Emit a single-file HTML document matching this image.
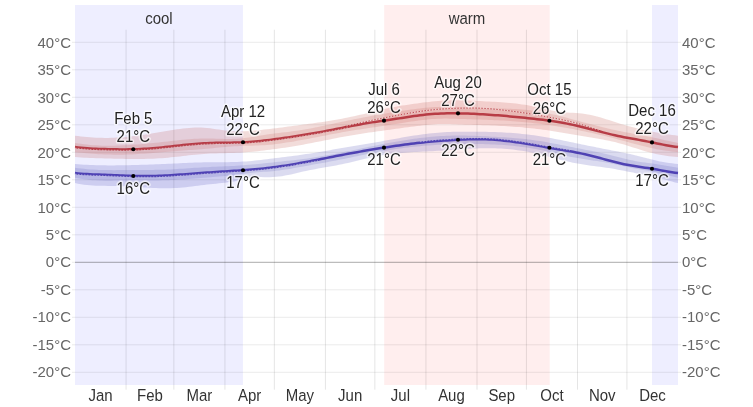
<!DOCTYPE html>
<html><head><meta charset="utf-8"><style>
html,body{margin:0;padding:0;background:#fff;width:753px;height:407px;overflow:hidden}
svg{display:block;will-change:transform}
text{font-family:"Liberation Sans",sans-serif}
.ax{font-size:15px;fill:#666}
.mo{font-size:15px;fill:#333}
.lb{font-size:15px;fill:#222}
.halo{stroke:rgba(255,255,255,0.6);stroke-width:3px;stroke-linejoin:round;fill:rgba(255,255,255,0.6)}
</style></head><body>
<svg width="753" height="407" viewBox="0 0 753 407">
<rect x="75" y="5" width="167.90" height="380" fill="#eeeeff"/>
<rect x="652" y="5" width="26" height="380" fill="#eeeeff"/>
<rect x="384.2" y="5" width="165.50" height="380" fill="#ffeeee"/>
<line x1="72" x2="681" y1="42.30" y2="42.30" stroke="rgba(0,0,0,0.08)" stroke-width="1"/>
<line x1="72" x2="681" y1="69.80" y2="69.80" stroke="rgba(0,0,0,0.08)" stroke-width="1"/>
<line x1="72" x2="681" y1="97.30" y2="97.30" stroke="rgba(0,0,0,0.08)" stroke-width="1"/>
<line x1="72" x2="681" y1="124.80" y2="124.80" stroke="rgba(0,0,0,0.08)" stroke-width="1"/>
<line x1="72" x2="681" y1="152.30" y2="152.30" stroke="rgba(0,0,0,0.08)" stroke-width="1"/>
<line x1="72" x2="681" y1="179.80" y2="179.80" stroke="rgba(0,0,0,0.08)" stroke-width="1"/>
<line x1="72" x2="681" y1="207.30" y2="207.30" stroke="rgba(0,0,0,0.08)" stroke-width="1"/>
<line x1="72" x2="681" y1="234.80" y2="234.80" stroke="rgba(0,0,0,0.08)" stroke-width="1"/>
<line x1="72" x2="681" y1="262.30" y2="262.30" stroke="rgba(0,0,0,0.08)" stroke-width="1"/>
<line x1="75" x2="678" y1="262.30" y2="262.30" stroke="rgba(0,0,0,0.27)" stroke-width="1"/>
<line x1="72" x2="681" y1="289.80" y2="289.80" stroke="rgba(0,0,0,0.08)" stroke-width="1"/>
<line x1="72" x2="681" y1="317.30" y2="317.30" stroke="rgba(0,0,0,0.08)" stroke-width="1"/>
<line x1="72" x2="681" y1="344.80" y2="344.80" stroke="rgba(0,0,0,0.08)" stroke-width="1"/>
<line x1="72" x2="681" y1="372.30" y2="372.30" stroke="rgba(0,0,0,0.08)" stroke-width="1"/>
<line x1="126.07" x2="126.07" y1="29.7" y2="389.7" stroke="rgba(0,0,0,0.1)" stroke-width="1"/>
<line x1="173.85" x2="173.85" y1="29.7" y2="389.7" stroke="rgba(0,0,0,0.1)" stroke-width="1"/>
<line x1="224.93" x2="224.93" y1="29.7" y2="389.7" stroke="rgba(0,0,0,0.1)" stroke-width="1"/>
<line x1="274.35" x2="274.35" y1="29.7" y2="389.7" stroke="rgba(0,0,0,0.1)" stroke-width="1"/>
<line x1="325.43" x2="325.43" y1="29.7" y2="389.7" stroke="rgba(0,0,0,0.1)" stroke-width="1"/>
<line x1="374.85" x2="374.85" y1="29.7" y2="389.7" stroke="rgba(0,0,0,0.1)" stroke-width="1"/>
<line x1="425.93" x2="425.93" y1="29.7" y2="389.7" stroke="rgba(0,0,0,0.1)" stroke-width="1"/>
<line x1="477.00" x2="477.00" y1="29.7" y2="389.7" stroke="rgba(0,0,0,0.1)" stroke-width="1"/>
<line x1="526.43" x2="526.43" y1="29.7" y2="389.7" stroke="rgba(0,0,0,0.1)" stroke-width="1"/>
<line x1="577.50" x2="577.50" y1="29.7" y2="389.7" stroke="rgba(0,0,0,0.1)" stroke-width="1"/>
<line x1="626.93" x2="626.93" y1="29.7" y2="389.7" stroke="rgba(0,0,0,0.1)" stroke-width="1"/>
<path d="M75.0,135.75 L78.0,136.11 L81.0,136.45 L84.0,136.76 L87.0,137.03 L90.0,137.28 L93.0,137.48 L96.0,137.65 L99.0,137.78 L102.0,137.87 L105.0,137.90 L108.0,137.90 L111.0,137.84 L114.0,137.74 L117.0,137.60 L120.0,137.42 L123.0,137.19 L126.0,136.94 L129.0,136.64 L132.0,136.32 L135.0,135.96 L138.0,135.58 L141.0,135.18 L144.0,134.75 L147.0,134.30 L150.0,133.84 L153.0,133.36 L156.0,132.87 L159.0,132.37 L162.0,131.86 L165.0,131.35 L168.0,130.84 L171.0,130.33 L174.0,129.84 L177.0,129.37 L180.0,128.94 L183.0,128.54 L186.0,128.20 L189.0,127.92 L192.0,127.71 L195.0,127.57 L198.0,127.53 L201.0,127.58 L204.0,127.73 L207.0,127.98 L210.0,128.31 L213.0,128.70 L216.0,129.14 L219.0,129.60 L222.0,130.05 L225.0,130.46 L228.0,130.82 L231.0,131.10 L234.0,131.29 L237.0,131.40 L240.0,131.42 L243.0,131.37 L246.0,131.25 L249.0,131.06 L252.0,130.84 L255.0,130.57 L258.0,130.27 L261.0,129.95 L264.0,129.61 L267.0,129.26 L270.0,128.90 L273.0,128.53 L276.0,128.15 L279.0,127.77 L282.0,127.38 L285.0,126.99 L288.0,126.59 L291.0,126.19 L294.0,125.80 L297.0,125.40 L300.0,125.00 L303.0,124.61 L306.0,124.21 L309.0,123.81 L312.0,123.40 L315.0,122.99 L318.0,122.57 L321.0,122.14 L324.0,121.70 L327.0,121.24 L330.0,120.76 L333.0,120.26 L336.0,119.75 L339.0,119.21 L342.0,118.65 L345.0,118.07 L348.0,117.47 L351.0,116.85 L354.0,116.21 L357.0,115.55 L360.0,114.87 L363.0,114.17 L366.0,113.46 L369.0,112.72 L372.0,111.98 L375.0,111.23 L378.0,110.49 L381.0,109.77 L384.0,109.08 L387.0,108.41 L390.0,107.78 L393.0,107.19 L396.0,106.64 L399.0,106.11 L402.0,105.61 L405.0,105.14 L408.0,104.69 L411.0,104.25 L414.0,103.83 L417.0,103.42 L420.0,103.01 L423.0,102.62 L426.0,102.24 L429.0,101.88 L432.0,101.54 L435.0,101.23 L438.0,100.96 L441.0,100.73 L444.0,100.55 L447.0,100.41 L450.0,100.33 L453.0,100.29 L456.0,100.28 L459.0,100.32 L462.0,100.38 L465.0,100.46 L468.0,100.57 L471.0,100.69 L474.0,100.82 L477.0,100.95 L480.0,101.09 L483.0,101.23 L486.0,101.38 L489.0,101.53 L492.0,101.68 L495.0,101.85 L498.0,102.03 L501.0,102.23 L504.0,102.45 L507.0,102.70 L510.0,102.97 L513.0,103.27 L516.0,103.61 L519.0,103.98 L522.0,104.39 L525.0,104.84 L528.0,105.34 L531.0,105.89 L534.0,106.48 L537.0,107.11 L540.0,107.78 L543.0,108.45 L546.0,109.13 L549.0,109.78 L552.0,110.40 L555.0,110.95 L558.0,111.44 L561.0,111.84 L564.0,112.17 L567.0,112.43 L570.0,112.65 L573.0,112.85 L576.0,113.06 L579.0,113.31 L582.0,113.62 L585.0,114.01 L588.0,114.50 L591.0,115.08 L594.0,115.76 L597.0,116.52 L600.0,117.34 L603.0,118.23 L606.0,119.16 L609.0,120.11 L612.0,121.08 L615.0,122.05 L618.0,123.01 L621.0,123.94 L624.0,124.85 L627.0,125.72 L630.0,126.55 L633.0,127.35 L636.0,128.11 L639.0,128.84 L642.0,129.54 L645.0,130.21 L648.0,130.84 L651.0,131.45 L654.0,132.03 L657.0,132.58 L660.0,133.11 L663.0,133.61 L666.0,134.08 L669.0,134.54 L672.0,134.96 L675.0,135.37 L678.0,135.75 L678.0,157.03 L675.0,156.77 L672.0,156.47 L669.0,156.13 L666.0,155.73 L663.0,155.28 L660.0,154.76 L657.0,154.18 L654.0,153.53 L651.0,152.80 L648.0,152.01 L645.0,151.15 L642.0,150.25 L639.0,149.31 L636.0,148.35 L633.0,147.38 L630.0,146.41 L627.0,145.47 L624.0,144.56 L621.0,143.70 L618.0,142.88 L615.0,142.12 L612.0,141.41 L609.0,140.76 L606.0,140.14 L603.0,139.56 L600.0,139.02 L597.0,138.49 L594.0,137.98 L591.0,137.48 L588.0,136.98 L585.0,136.48 L582.0,135.98 L579.0,135.47 L576.0,134.95 L573.0,134.43 L570.0,133.91 L567.0,133.40 L564.0,132.88 L561.0,132.38 L558.0,131.88 L555.0,131.40 L552.0,130.94 L549.0,130.49 L546.0,130.07 L543.0,129.66 L540.0,129.28 L537.0,128.91 L534.0,128.57 L531.0,128.24 L528.0,127.93 L525.0,127.64 L522.0,127.37 L519.0,127.12 L516.0,126.88 L513.0,126.65 L510.0,126.45 L507.0,126.25 L504.0,126.07 L501.0,125.91 L498.0,125.75 L495.0,125.61 L492.0,125.48 L489.0,125.36 L486.0,125.26 L483.0,125.16 L480.0,125.07 L477.0,124.98 L474.0,124.90 L471.0,124.82 L468.0,124.74 L465.0,124.64 L462.0,124.53 L459.0,124.41 L456.0,124.29 L453.0,124.16 L450.0,124.05 L447.0,123.97 L444.0,123.94 L441.0,123.96 L438.0,124.05 L435.0,124.20 L432.0,124.40 L429.0,124.66 L426.0,124.95 L423.0,125.28 L420.0,125.63 L417.0,126.00 L414.0,126.38 L411.0,126.77 L408.0,127.17 L405.0,127.58 L402.0,127.99 L399.0,128.40 L396.0,128.82 L393.0,129.24 L390.0,129.66 L387.0,130.08 L384.0,130.50 L381.0,130.92 L378.0,131.34 L375.0,131.76 L372.0,132.18 L369.0,132.62 L366.0,133.05 L363.0,133.50 L360.0,133.96 L357.0,134.44 L354.0,134.93 L351.0,135.44 L348.0,135.96 L345.0,136.50 L342.0,137.05 L339.0,137.62 L336.0,138.20 L333.0,138.79 L330.0,139.38 L327.0,139.98 L324.0,140.58 L321.0,141.18 L318.0,141.78 L315.0,142.37 L312.0,142.95 L309.0,143.53 L306.0,144.09 L303.0,144.64 L300.0,145.17 L297.0,145.69 L294.0,146.20 L291.0,146.69 L288.0,147.16 L285.0,147.63 L282.0,148.08 L279.0,148.51 L276.0,148.93 L273.0,149.34 L270.0,149.74 L267.0,150.12 L264.0,150.49 L261.0,150.84 L258.0,151.18 L255.0,151.50 L252.0,151.80 L249.0,152.07 L246.0,152.32 L243.0,152.52 L240.0,152.70 L237.0,152.84 L234.0,152.95 L231.0,153.04 L228.0,153.11 L225.0,153.17 L222.0,153.23 L219.0,153.30 L216.0,153.38 L213.0,153.48 L210.0,153.60 L207.0,153.76 L204.0,153.94 L201.0,154.17 L198.0,154.43 L195.0,154.71 L192.0,155.02 L189.0,155.35 L186.0,155.70 L183.0,156.04 L180.0,156.39 L177.0,156.73 L174.0,157.06 L171.0,157.37 L168.0,157.65 L165.0,157.91 L162.0,158.14 L159.0,158.33 L156.0,158.50 L153.0,158.64 L150.0,158.75 L147.0,158.84 L144.0,158.91 L141.0,158.95 L138.0,158.97 L135.0,158.98 L132.0,158.96 L129.0,158.94 L126.0,158.90 L123.0,158.84 L120.0,158.78 L117.0,158.71 L114.0,158.64 L111.0,158.56 L108.0,158.48 L105.0,158.40 L102.0,158.31 L99.0,158.22 L96.0,158.13 L93.0,158.02 L90.0,157.91 L87.0,157.78 L84.0,157.63 L81.0,157.46 L78.0,157.26 L75.0,157.03 Z" fill="rgba(190,80,70,0.2)"/>
<path d="M75.0,142.89 L78.0,143.41 L81.0,143.87 L84.0,144.27 L87.0,144.62 L90.0,144.92 L93.0,145.17 L96.0,145.36 L99.0,145.52 L102.0,145.63 L105.0,145.69 L108.0,145.72 L111.0,145.71 L114.0,145.67 L117.0,145.60 L120.0,145.50 L123.0,145.37 L126.0,145.21 L129.0,145.03 L132.0,144.84 L135.0,144.62 L138.0,144.39 L141.0,144.14 L144.0,143.87 L147.0,143.60 L150.0,143.31 L153.0,143.01 L156.0,142.70 L159.0,142.38 L162.0,142.05 L165.0,141.72 L168.0,141.38 L171.0,141.04 L174.0,140.70 L177.0,140.38 L180.0,140.06 L183.0,139.75 L186.0,139.47 L189.0,139.22 L192.0,139.00 L195.0,138.81 L198.0,138.66 L201.0,138.56 L204.0,138.51 L207.0,138.49 L210.0,138.52 L213.0,138.58 L216.0,138.66 L219.0,138.75 L222.0,138.84 L225.0,138.90 L228.0,138.94 L231.0,138.93 L234.0,138.86 L237.0,138.73 L240.0,138.52 L243.0,138.22 L246.0,137.85 L249.0,137.42 L252.0,136.94 L255.0,136.43 L258.0,135.92 L261.0,135.43 L264.0,134.96 L267.0,134.52 L270.0,134.10 L273.0,133.71 L276.0,133.33 L279.0,132.97 L282.0,132.61 L285.0,132.25 L288.0,131.89 L291.0,131.51 L294.0,131.11 L297.0,130.69 L300.0,130.23 L303.0,129.75 L306.0,129.24 L309.0,128.70 L312.0,128.13 L315.0,127.54 L318.0,126.93 L321.0,126.31 L324.0,125.68 L327.0,125.04 L330.0,124.40 L333.0,123.76 L336.0,123.12 L339.0,122.49 L342.0,121.85 L345.0,121.23 L348.0,120.60 L351.0,119.99 L354.0,119.37 L357.0,118.77 L360.0,118.17 L363.0,117.58 L366.0,117.00 L369.0,116.43 L372.0,115.86 L375.0,115.31 L378.0,114.76 L381.0,114.23 L384.0,113.70 L387.0,113.19 L390.0,112.69 L393.0,112.20 L396.0,111.72 L399.0,111.26 L402.0,110.81 L405.0,110.38 L408.0,109.96 L411.0,109.55 L414.0,109.16 L417.0,108.79 L420.0,108.44 L423.0,108.11 L426.0,107.80 L429.0,107.52 L432.0,107.27 L435.0,107.06 L438.0,106.88 L441.0,106.76 L444.0,106.68 L447.0,106.64 L450.0,106.65 L453.0,106.70 L456.0,106.78 L459.0,106.88 L462.0,107.01 L465.0,107.15 L468.0,107.30 L471.0,107.45 L474.0,107.59 L477.0,107.73 L480.0,107.85 L483.0,107.96 L486.0,108.06 L489.0,108.15 L492.0,108.23 L495.0,108.31 L498.0,108.39 L501.0,108.47 L504.0,108.57 L507.0,108.67 L510.0,108.80 L513.0,108.94 L516.0,109.11 L519.0,109.31 L522.0,109.54 L525.0,109.80 L528.0,110.11 L531.0,110.46 L534.0,110.86 L537.0,111.30 L540.0,111.79 L543.0,112.32 L546.0,112.90 L549.0,113.52 L552.0,114.17 L555.0,114.86 L558.0,115.58 L561.0,116.32 L564.0,117.08 L567.0,117.85 L570.0,118.65 L573.0,119.45 L576.0,120.26 L579.0,121.07 L582.0,121.88 L585.0,122.69 L588.0,123.49 L591.0,124.28 L594.0,125.06 L597.0,125.82 L600.0,126.58 L603.0,127.32 L606.0,128.04 L609.0,128.75 L612.0,129.43 L615.0,130.10 L618.0,130.75 L621.0,131.37 L624.0,131.98 L627.0,132.56 L630.0,133.12 L633.0,133.67 L636.0,134.21 L639.0,134.75 L642.0,135.30 L645.0,135.86 L648.0,136.45 L651.0,137.06 L654.0,137.69 L657.0,138.35 L660.0,139.03 L663.0,139.72 L666.0,140.40 L669.0,141.07 L672.0,141.72 L675.0,142.33 L678.0,142.89 L678.0,152.16 L675.0,151.83 L672.0,151.47 L669.0,151.08 L666.0,150.67 L663.0,150.22 L660.0,149.73 L657.0,149.19 L654.0,148.61 L651.0,147.99 L648.0,147.31 L645.0,146.60 L642.0,145.85 L639.0,145.07 L636.0,144.27 L633.0,143.45 L630.0,142.63 L627.0,141.82 L624.0,141.00 L621.0,140.20 L618.0,139.40 L615.0,138.62 L612.0,137.85 L609.0,137.09 L606.0,136.35 L603.0,135.62 L600.0,134.90 L597.0,134.20 L594.0,133.51 L591.0,132.83 L588.0,132.17 L585.0,131.53 L582.0,130.90 L579.0,130.29 L576.0,129.69 L573.0,129.11 L570.0,128.54 L567.0,127.99 L564.0,127.46 L561.0,126.94 L558.0,126.44 L555.0,125.96 L552.0,125.50 L549.0,125.06 L546.0,124.63 L543.0,124.23 L540.0,123.84 L537.0,123.47 L534.0,123.13 L531.0,122.80 L528.0,122.49 L525.0,122.20 L522.0,121.92 L519.0,121.67 L516.0,121.43 L513.0,121.21 L510.0,121.00 L507.0,120.80 L504.0,120.62 L501.0,120.45 L498.0,120.30 L495.0,120.15 L492.0,120.02 L489.0,119.89 L486.0,119.78 L483.0,119.67 L480.0,119.57 L477.0,119.48 L474.0,119.39 L471.0,119.30 L468.0,119.21 L465.0,119.12 L462.0,119.03 L459.0,118.93 L456.0,118.83 L453.0,118.73 L450.0,118.66 L447.0,118.61 L444.0,118.61 L441.0,118.65 L438.0,118.75 L435.0,118.90 L432.0,119.11 L429.0,119.36 L426.0,119.66 L423.0,119.99 L420.0,120.35 L417.0,120.74 L414.0,121.15 L411.0,121.58 L408.0,122.02 L405.0,122.48 L402.0,122.95 L399.0,123.42 L396.0,123.89 L393.0,124.37 L390.0,124.85 L387.0,125.32 L384.0,125.78 L381.0,126.24 L378.0,126.70 L375.0,127.15 L372.0,127.59 L369.0,128.04 L366.0,128.49 L363.0,128.94 L360.0,129.40 L357.0,129.86 L354.0,130.34 L351.0,130.83 L348.0,131.33 L345.0,131.85 L342.0,132.37 L339.0,132.91 L336.0,133.46 L333.0,134.02 L330.0,134.59 L327.0,135.16 L324.0,135.74 L321.0,136.32 L318.0,136.90 L315.0,137.48 L312.0,138.05 L309.0,138.63 L306.0,139.20 L303.0,139.76 L300.0,140.31 L297.0,140.85 L294.0,141.38 L291.0,141.88 L288.0,142.37 L285.0,142.83 L282.0,143.27 L279.0,143.67 L276.0,144.05 L273.0,144.38 L270.0,144.68 L267.0,144.94 L264.0,145.15 L261.0,145.33 L258.0,145.46 L255.0,145.56 L252.0,145.63 L249.0,145.70 L246.0,145.77 L243.0,145.87 L240.0,145.98 L237.0,146.13 L234.0,146.31 L231.0,146.52 L228.0,146.76 L225.0,147.01 L222.0,147.28 L219.0,147.56 L216.0,147.85 L213.0,148.14 L210.0,148.42 L207.0,148.69 L204.0,148.96 L201.0,149.21 L198.0,149.45 L195.0,149.68 L192.0,149.91 L189.0,150.12 L186.0,150.33 L183.0,150.54 L180.0,150.75 L177.0,150.96 L174.0,151.18 L171.0,151.41 L168.0,151.64 L165.0,151.89 L162.0,152.14 L159.0,152.40 L156.0,152.66 L153.0,152.92 L150.0,153.17 L147.0,153.42 L144.0,153.65 L141.0,153.87 L138.0,154.07 L135.0,154.24 L132.0,154.39 L129.0,154.50 L126.0,154.59 L123.0,154.65 L120.0,154.68 L117.0,154.68 L114.0,154.65 L111.0,154.60 L108.0,154.52 L105.0,154.42 L102.0,154.29 L99.0,154.14 L96.0,153.96 L93.0,153.76 L90.0,153.55 L87.0,153.31 L84.0,153.05 L81.0,152.77 L78.0,152.48 L75.0,152.16 Z" fill="rgba(190,80,70,0.17)"/>
<path d="M75.0,163.93 L78.0,164.20 L81.0,164.43 L84.0,164.63 L87.0,164.81 L90.0,164.96 L93.0,165.08 L96.0,165.18 L99.0,165.26 L102.0,165.32 L105.0,165.37 L108.0,165.39 L111.0,165.40 L114.0,165.39 L117.0,165.37 L120.0,165.34 L123.0,165.29 L126.0,165.24 L129.0,165.18 L132.0,165.11 L135.0,165.04 L138.0,164.96 L141.0,164.87 L144.0,164.78 L147.0,164.69 L150.0,164.59 L153.0,164.48 L156.0,164.36 L159.0,164.24 L162.0,164.11 L165.0,163.98 L168.0,163.84 L171.0,163.70 L174.0,163.55 L177.0,163.40 L180.0,163.25 L183.0,163.10 L186.0,162.96 L189.0,162.83 L192.0,162.71 L195.0,162.59 L198.0,162.50 L201.0,162.42 L204.0,162.35 L207.0,162.31 L210.0,162.28 L213.0,162.26 L216.0,162.24 L219.0,162.23 L222.0,162.22 L225.0,162.20 L228.0,162.17 L231.0,162.12 L234.0,162.04 L237.0,161.93 L240.0,161.79 L243.0,161.62 L246.0,161.41 L249.0,161.16 L252.0,160.88 L255.0,160.57 L258.0,160.24 L261.0,159.90 L264.0,159.54 L267.0,159.17 L270.0,158.80 L273.0,158.43 L276.0,158.07 L279.0,157.70 L282.0,157.33 L285.0,156.96 L288.0,156.58 L291.0,156.20 L294.0,155.81 L297.0,155.40 L300.0,154.99 L303.0,154.56 L306.0,154.12 L309.0,153.66 L312.0,153.19 L315.0,152.70 L318.0,152.20 L321.0,151.70 L324.0,151.19 L327.0,150.67 L330.0,150.15 L333.0,149.62 L336.0,149.10 L339.0,148.58 L342.0,148.06 L345.0,147.55 L348.0,147.04 L351.0,146.54 L354.0,146.03 L357.0,145.53 L360.0,145.03 L363.0,144.52 L366.0,144.01 L369.0,143.50 L372.0,142.99 L375.0,142.47 L378.0,141.94 L381.0,141.41 L384.0,140.87 L387.0,140.33 L390.0,139.78 L393.0,139.24 L396.0,138.69 L399.0,138.15 L402.0,137.62 L405.0,137.10 L408.0,136.59 L411.0,136.09 L414.0,135.61 L417.0,135.15 L420.0,134.70 L423.0,134.29 L426.0,133.89 L429.0,133.53 L432.0,133.20 L435.0,132.90 L438.0,132.64 L441.0,132.41 L444.0,132.22 L447.0,132.06 L450.0,131.94 L453.0,131.84 L456.0,131.77 L459.0,131.72 L462.0,131.68 L465.0,131.67 L468.0,131.66 L471.0,131.67 L474.0,131.68 L477.0,131.71 L480.0,131.75 L483.0,131.79 L486.0,131.85 L489.0,131.92 L492.0,132.01 L495.0,132.11 L498.0,132.22 L501.0,132.36 L504.0,132.51 L507.0,132.68 L510.0,132.87 L513.0,133.09 L516.0,133.32 L519.0,133.59 L522.0,133.88 L525.0,134.19 L528.0,134.54 L531.0,134.91 L534.0,135.32 L537.0,135.76 L540.0,136.22 L543.0,136.71 L546.0,137.23 L549.0,137.77 L552.0,138.33 L555.0,138.91 L558.0,139.50 L561.0,140.10 L564.0,140.72 L567.0,141.33 L570.0,141.96 L573.0,142.58 L576.0,143.20 L579.0,143.82 L582.0,144.44 L585.0,145.05 L588.0,145.66 L591.0,146.26 L594.0,146.86 L597.0,147.46 L600.0,148.05 L603.0,148.64 L606.0,149.22 L609.0,149.80 L612.0,150.38 L615.0,150.97 L618.0,151.55 L621.0,152.15 L624.0,152.76 L627.0,153.39 L630.0,154.04 L633.0,154.72 L636.0,155.43 L639.0,156.17 L642.0,156.94 L645.0,157.74 L648.0,158.54 L651.0,159.33 L654.0,160.08 L657.0,160.77 L660.0,161.40 L663.0,161.97 L666.0,162.46 L669.0,162.90 L672.0,163.29 L675.0,163.63 L678.0,163.93 L678.0,183.10 L675.0,182.38 L672.0,181.59 L669.0,180.75 L666.0,179.87 L663.0,179.00 L660.0,178.15 L657.0,177.35 L654.0,176.62 L651.0,175.96 L648.0,175.36 L645.0,174.80 L642.0,174.25 L639.0,173.70 L636.0,173.14 L633.0,172.56 L630.0,171.98 L627.0,171.38 L624.0,170.79 L621.0,170.21 L618.0,169.65 L615.0,169.11 L612.0,168.60 L609.0,168.11 L606.0,167.66 L603.0,167.23 L600.0,166.82 L597.0,166.43 L594.0,166.03 L591.0,165.64 L588.0,165.23 L585.0,164.80 L582.0,164.33 L579.0,163.83 L576.0,163.29 L573.0,162.69 L570.0,162.05 L567.0,161.37 L564.0,160.65 L561.0,159.90 L558.0,159.12 L555.0,158.33 L552.0,157.53 L549.0,156.74 L546.0,155.96 L543.0,155.19 L540.0,154.45 L537.0,153.74 L534.0,153.07 L531.0,152.44 L528.0,151.86 L525.0,151.32 L522.0,150.83 L519.0,150.38 L516.0,149.98 L513.0,149.62 L510.0,149.30 L507.0,149.03 L504.0,148.80 L501.0,148.60 L498.0,148.45 L495.0,148.33 L492.0,148.25 L489.0,148.21 L486.0,148.21 L483.0,148.24 L480.0,148.30 L477.0,148.40 L474.0,148.52 L471.0,148.67 L468.0,148.84 L465.0,149.04 L462.0,149.24 L459.0,149.45 L456.0,149.67 L453.0,149.89 L450.0,150.10 L447.0,150.31 L444.0,150.51 L441.0,150.69 L438.0,150.86 L435.0,151.02 L432.0,151.17 L429.0,151.32 L426.0,151.46 L423.0,151.60 L420.0,151.74 L417.0,151.90 L414.0,152.06 L411.0,152.23 L408.0,152.43 L405.0,152.64 L402.0,152.88 L399.0,153.15 L396.0,153.45 L393.0,153.78 L390.0,154.15 L387.0,154.56 L384.0,155.02 L381.0,155.52 L378.0,156.06 L375.0,156.65 L372.0,157.28 L369.0,157.93 L366.0,158.62 L363.0,159.32 L360.0,160.04 L357.0,160.76 L354.0,161.49 L351.0,162.20 L348.0,162.89 L345.0,163.57 L342.0,164.22 L339.0,164.83 L336.0,165.42 L333.0,165.99 L330.0,166.53 L327.0,167.05 L324.0,167.57 L321.0,168.09 L318.0,168.62 L315.0,169.16 L312.0,169.73 L309.0,170.33 L306.0,170.96 L303.0,171.62 L300.0,172.30 L297.0,173.00 L294.0,173.70 L291.0,174.38 L288.0,175.02 L285.0,175.61 L282.0,176.13 L279.0,176.55 L276.0,176.87 L273.0,177.07 L270.0,177.17 L267.0,177.18 L264.0,177.14 L261.0,177.10 L258.0,177.13 L255.0,177.29 L252.0,177.62 L249.0,178.11 L246.0,178.73 L243.0,179.43 L240.0,180.14 L237.0,180.80 L234.0,181.39 L231.0,181.90 L228.0,182.33 L225.0,182.71 L222.0,183.04 L219.0,183.35 L216.0,183.64 L213.0,183.94 L210.0,184.26 L207.0,184.59 L204.0,184.95 L201.0,185.32 L198.0,185.70 L195.0,186.09 L192.0,186.46 L189.0,186.82 L186.0,187.15 L183.0,187.45 L180.0,187.70 L177.0,187.90 L174.0,188.05 L171.0,188.16 L168.0,188.22 L165.0,188.23 L162.0,188.20 L159.0,188.14 L156.0,188.04 L153.0,187.91 L150.0,187.76 L147.0,187.58 L144.0,187.40 L141.0,187.20 L138.0,187.00 L135.0,186.80 L132.0,186.61 L129.0,186.44 L126.0,186.29 L123.0,186.16 L120.0,186.06 L117.0,185.99 L114.0,185.95 L111.0,185.92 L108.0,185.89 L105.0,185.87 L102.0,185.83 L99.0,185.76 L96.0,185.66 L93.0,185.52 L90.0,185.31 L87.0,185.04 L84.0,184.69 L81.0,184.26 L78.0,183.72 L75.0,183.10 Z" fill="rgba(75,75,180,0.2)"/>
<path d="M75.0,167.70 L78.0,168.13 L81.0,168.52 L84.0,168.85 L87.0,169.14 L90.0,169.38 L93.0,169.59 L96.0,169.75 L99.0,169.88 L102.0,169.98 L105.0,170.05 L108.0,170.09 L111.0,170.12 L114.0,170.13 L117.0,170.12 L120.0,170.11 L123.0,170.09 L126.0,170.06 L129.0,170.04 L132.0,170.02 L135.0,170.00 L138.0,169.98 L141.0,169.97 L144.0,169.96 L147.0,169.94 L150.0,169.92 L153.0,169.89 L156.0,169.85 L159.0,169.80 L162.0,169.72 L165.0,169.63 L168.0,169.51 L171.0,169.38 L174.0,169.22 L177.0,169.05 L180.0,168.86 L183.0,168.67 L186.0,168.46 L189.0,168.26 L192.0,168.05 L195.0,167.84 L198.0,167.65 L201.0,167.46 L204.0,167.29 L207.0,167.13 L210.0,166.98 L213.0,166.84 L216.0,166.71 L219.0,166.59 L222.0,166.47 L225.0,166.34 L228.0,166.21 L231.0,166.08 L234.0,165.92 L237.0,165.75 L240.0,165.56 L243.0,165.35 L246.0,165.12 L249.0,164.86 L252.0,164.58 L255.0,164.29 L258.0,163.98 L261.0,163.67 L264.0,163.35 L267.0,163.03 L270.0,162.71 L273.0,162.39 L276.0,162.07 L279.0,161.76 L282.0,161.44 L285.0,161.12 L288.0,160.80 L291.0,160.47 L294.0,160.13 L297.0,159.77 L300.0,159.41 L303.0,159.03 L306.0,158.63 L309.0,158.21 L312.0,157.77 L315.0,157.32 L318.0,156.84 L321.0,156.35 L324.0,155.84 L327.0,155.32 L330.0,154.78 L333.0,154.22 L336.0,153.65 L339.0,153.07 L342.0,152.48 L345.0,151.87 L348.0,151.26 L351.0,150.64 L354.0,150.01 L357.0,149.38 L360.0,148.75 L363.0,148.12 L366.0,147.49 L369.0,146.86 L372.0,146.24 L375.0,145.63 L378.0,145.02 L381.0,144.43 L384.0,143.84 L387.0,143.27 L390.0,142.72 L393.0,142.18 L396.0,141.65 L399.0,141.14 L402.0,140.65 L405.0,140.17 L408.0,139.71 L411.0,139.27 L414.0,138.85 L417.0,138.46 L420.0,138.08 L423.0,137.72 L426.0,137.39 L429.0,137.08 L432.0,136.79 L435.0,136.53 L438.0,136.29 L441.0,136.08 L444.0,135.90 L447.0,135.75 L450.0,135.63 L453.0,135.54 L456.0,135.49 L459.0,135.48 L462.0,135.50 L465.0,135.55 L468.0,135.63 L471.0,135.72 L474.0,135.84 L477.0,135.96 L480.0,136.09 L483.0,136.23 L486.0,136.36 L489.0,136.50 L492.0,136.65 L495.0,136.80 L498.0,136.96 L501.0,137.13 L504.0,137.32 L507.0,137.51 L510.0,137.73 L513.0,137.96 L516.0,138.21 L519.0,138.48 L522.0,138.78 L525.0,139.10 L528.0,139.44 L531.0,139.82 L534.0,140.22 L537.0,140.65 L540.0,141.11 L543.0,141.60 L546.0,142.11 L549.0,142.64 L552.0,143.19 L555.0,143.76 L558.0,144.34 L561.0,144.92 L564.0,145.52 L567.0,146.11 L570.0,146.70 L573.0,147.30 L576.0,147.88 L579.0,148.47 L582.0,149.05 L585.0,149.63 L588.0,150.22 L591.0,150.81 L594.0,151.42 L597.0,152.03 L600.0,152.67 L603.0,153.33 L606.0,154.01 L609.0,154.71 L612.0,155.44 L615.0,156.19 L618.0,156.94 L621.0,157.70 L624.0,158.45 L627.0,159.18 L630.0,159.88 L633.0,160.54 L636.0,161.14 L639.0,161.68 L642.0,162.16 L645.0,162.59 L648.0,162.98 L651.0,163.36 L654.0,163.75 L657.0,164.17 L660.0,164.64 L663.0,165.14 L666.0,165.66 L669.0,166.19 L672.0,166.72 L675.0,167.23 L678.0,167.70 L678.0,177.65 L675.0,176.98 L672.0,176.26 L669.0,175.50 L666.0,174.73 L663.0,173.96 L660.0,173.23 L657.0,172.55 L654.0,171.93 L651.0,171.37 L648.0,170.85 L645.0,170.35 L642.0,169.85 L639.0,169.31 L636.0,168.75 L633.0,168.15 L630.0,167.52 L627.0,166.87 L624.0,166.21 L621.0,165.55 L618.0,164.90 L615.0,164.27 L612.0,163.66 L609.0,163.09 L606.0,162.55 L603.0,162.04 L600.0,161.56 L597.0,161.10 L594.0,160.65 L591.0,160.21 L588.0,159.76 L585.0,159.31 L582.0,158.84 L579.0,158.34 L576.0,157.81 L573.0,157.25 L570.0,156.65 L567.0,156.03 L564.0,155.38 L561.0,154.70 L558.0,154.02 L555.0,153.32 L552.0,152.63 L549.0,151.94 L546.0,151.26 L543.0,150.60 L540.0,149.97 L537.0,149.36 L534.0,148.79 L531.0,148.26 L528.0,147.76 L525.0,147.30 L522.0,146.88 L519.0,146.50 L516.0,146.15 L513.0,145.83 L510.0,145.55 L507.0,145.29 L504.0,145.06 L501.0,144.86 L498.0,144.69 L495.0,144.53 L492.0,144.40 L489.0,144.29 L486.0,144.20 L483.0,144.12 L480.0,144.06 L477.0,144.01 L474.0,143.98 L471.0,143.97 L468.0,143.96 L465.0,143.97 L462.0,144.00 L459.0,144.04 L456.0,144.10 L453.0,144.17 L450.0,144.26 L447.0,144.37 L444.0,144.49 L441.0,144.63 L438.0,144.79 L435.0,144.97 L432.0,145.17 L429.0,145.38 L426.0,145.62 L423.0,145.87 L420.0,146.14 L417.0,146.43 L414.0,146.74 L411.0,147.07 L408.0,147.42 L405.0,147.79 L402.0,148.18 L399.0,148.58 L396.0,149.01 L393.0,149.46 L390.0,149.93 L387.0,150.42 L384.0,150.93 L381.0,151.46 L378.0,152.01 L375.0,152.57 L372.0,153.15 L369.0,153.75 L366.0,154.35 L363.0,154.97 L360.0,155.59 L357.0,156.21 L354.0,156.83 L351.0,157.46 L348.0,158.07 L345.0,158.68 L342.0,159.28 L339.0,159.87 L336.0,160.45 L333.0,161.02 L330.0,161.58 L327.0,162.13 L324.0,162.67 L321.0,163.21 L318.0,163.75 L315.0,164.29 L312.0,164.83 L309.0,165.38 L306.0,165.93 L303.0,166.48 L300.0,167.03 L297.0,167.58 L294.0,168.12 L291.0,168.64 L288.0,169.14 L285.0,169.62 L282.0,170.06 L279.0,170.47 L276.0,170.83 L273.0,171.14 L270.0,171.40 L267.0,171.63 L264.0,171.84 L261.0,172.04 L258.0,172.25 L255.0,172.50 L252.0,172.81 L249.0,173.16 L246.0,173.55 L243.0,173.97 L240.0,174.39 L237.0,174.78 L234.0,175.15 L231.0,175.48 L228.0,175.78 L225.0,176.06 L222.0,176.32 L219.0,176.56 L216.0,176.79 L213.0,177.01 L210.0,177.24 L207.0,177.46 L204.0,177.70 L201.0,177.93 L198.0,178.18 L195.0,178.42 L192.0,178.67 L189.0,178.91 L186.0,179.15 L183.0,179.38 L180.0,179.59 L177.0,179.78 L174.0,179.95 L171.0,180.09 L168.0,180.21 L165.0,180.29 L162.0,180.35 L159.0,180.39 L156.0,180.40 L153.0,180.40 L150.0,180.39 L147.0,180.37 L144.0,180.35 L141.0,180.33 L138.0,180.32 L135.0,180.32 L132.0,180.34 L129.0,180.37 L126.0,180.42 L123.0,180.47 L120.0,180.52 L117.0,180.57 L114.0,180.61 L111.0,180.64 L108.0,180.65 L105.0,180.63 L102.0,180.57 L99.0,180.48 L96.0,180.34 L93.0,180.15 L90.0,179.91 L87.0,179.60 L84.0,179.22 L81.0,178.77 L78.0,178.25 L75.0,177.65 Z" fill="rgba(75,75,180,0.167)"/>
<path d="M75.0,147.11 L78.0,147.47 L81.0,147.79 L84.0,148.06 L87.0,148.29 L90.0,148.48 L93.0,148.64 L96.0,148.78 L99.0,148.89 L102.0,148.99 L105.0,149.08 L108.0,149.16 L111.0,149.23 L114.0,149.29 L117.0,149.34 L120.0,149.38 L123.0,149.40 L126.0,149.40 L129.0,149.37 L132.0,149.32 L135.0,149.25 L138.0,149.14 L141.0,149.01 L144.0,148.85 L147.0,148.66 L150.0,148.45 L153.0,148.21 L156.0,147.95 L159.0,147.68 L162.0,147.38 L165.0,147.07 L168.0,146.75 L171.0,146.42 L174.0,146.08 L177.0,145.75 L180.0,145.41 L183.0,145.08 L186.0,144.76 L189.0,144.45 L192.0,144.17 L195.0,143.90 L198.0,143.66 L201.0,143.45 L204.0,143.28 L207.0,143.13 L210.0,143.01 L213.0,142.92 L216.0,142.85 L219.0,142.79 L222.0,142.75 L225.0,142.72 L228.0,142.68 L231.0,142.64 L234.0,142.58 L237.0,142.51 L240.0,142.41 L243.0,142.28 L246.0,142.13 L249.0,141.94 L252.0,141.73 L255.0,141.48 L258.0,141.21 L261.0,140.91 L264.0,140.59 L267.0,140.24 L270.0,139.88 L273.0,139.50 L276.0,139.10 L279.0,138.69 L282.0,138.26 L285.0,137.82 L288.0,137.37 L291.0,136.91 L294.0,136.44 L297.0,135.96 L300.0,135.48 L303.0,134.99 L306.0,134.50 L309.0,134.00 L312.0,133.49 L315.0,132.98 L318.0,132.45 L321.0,131.92 L324.0,131.38 L327.0,130.82 L330.0,130.26 L333.0,129.69 L336.0,129.10 L339.0,128.51 L342.0,127.91 L345.0,127.32 L348.0,126.72 L351.0,126.12 L354.0,125.53 L357.0,124.96 L360.0,124.40 L363.0,123.86 L366.0,123.35 L369.0,122.86 L372.0,122.39 L375.0,121.95 L378.0,121.51 L381.0,121.08 L384.0,120.65 L387.0,120.22 L390.0,119.77 L393.0,119.32 L396.0,118.86 L399.0,118.39 L402.0,117.92 L405.0,117.45 L408.0,116.99 L411.0,116.54 L414.0,116.10 L417.0,115.69 L420.0,115.30 L423.0,114.94 L426.0,114.61 L429.0,114.32 L432.0,114.06 L435.0,113.84 L438.0,113.66 L441.0,113.52 L444.0,113.41 L447.0,113.35 L450.0,113.31 L453.0,113.31 L456.0,113.33 L459.0,113.38 L462.0,113.44 L465.0,113.53 L468.0,113.62 L471.0,113.73 L474.0,113.86 L477.0,114.00 L480.0,114.16 L483.0,114.32 L486.0,114.51 L489.0,114.70 L492.0,114.91 L495.0,115.13 L498.0,115.36 L501.0,115.61 L504.0,115.86 L507.0,116.12 L510.0,116.39 L513.0,116.67 L516.0,116.96 L519.0,117.25 L522.0,117.55 L525.0,117.86 L528.0,118.17 L531.0,118.49 L534.0,118.82 L537.0,119.15 L540.0,119.50 L543.0,119.86 L546.0,120.24 L549.0,120.64 L552.0,121.07 L555.0,121.53 L558.0,122.01 L561.0,122.52 L564.0,123.07 L567.0,123.64 L570.0,124.25 L573.0,124.88 L576.0,125.54 L579.0,126.23 L582.0,126.94 L585.0,127.68 L588.0,128.44 L591.0,129.21 L594.0,130.00 L597.0,130.79 L600.0,131.58 L603.0,132.36 L606.0,133.13 L609.0,133.87 L612.0,134.60 L615.0,135.28 L618.0,135.94 L621.0,136.56 L624.0,137.15 L627.0,137.72 L630.0,138.27 L633.0,138.81 L636.0,139.35 L639.0,139.89 L642.0,140.45 L645.0,141.03 L648.0,141.62 L651.0,142.22 L654.0,142.83 L657.0,143.44 L660.0,144.04 L663.0,144.63 L666.0,145.20 L669.0,145.74 L672.0,146.24 L675.0,146.70 L678.0,147.11" fill="none" stroke="#b02a35" stroke-opacity="0.88" stroke-width="2.5"/>
<path d="M75.0,173.06 L78.0,173.40 L81.0,173.68 L84.0,173.91 L87.0,174.10 L90.0,174.25 L93.0,174.38 L96.0,174.49 L99.0,174.60 L102.0,174.70 L105.0,174.82 L108.0,174.94 L111.0,175.06 L114.0,175.19 L117.0,175.33 L120.0,175.46 L123.0,175.58 L126.0,175.70 L129.0,175.81 L132.0,175.90 L135.0,175.97 L138.0,176.02 L141.0,176.05 L144.0,176.06 L147.0,176.05 L150.0,176.01 L153.0,175.96 L156.0,175.88 L159.0,175.79 L162.0,175.67 L165.0,175.54 L168.0,175.38 L171.0,175.21 L174.0,175.03 L177.0,174.83 L180.0,174.62 L183.0,174.40 L186.0,174.17 L189.0,173.94 L192.0,173.71 L195.0,173.47 L198.0,173.25 L201.0,173.02 L204.0,172.80 L207.0,172.59 L210.0,172.38 L213.0,172.18 L216.0,171.99 L219.0,171.80 L222.0,171.62 L225.0,171.43 L228.0,171.25 L231.0,171.06 L234.0,170.87 L237.0,170.68 L240.0,170.47 L243.0,170.26 L246.0,170.04 L249.0,169.81 L252.0,169.56 L255.0,169.30 L258.0,169.02 L261.0,168.73 L264.0,168.41 L267.0,168.08 L270.0,167.72 L273.0,167.34 L276.0,166.94 L279.0,166.53 L282.0,166.09 L285.0,165.63 L288.0,165.15 L291.0,164.66 L294.0,164.15 L297.0,163.62 L300.0,163.09 L303.0,162.54 L306.0,161.98 L309.0,161.41 L312.0,160.83 L315.0,160.25 L318.0,159.66 L321.0,159.06 L324.0,158.47 L327.0,157.87 L330.0,157.28 L333.0,156.69 L336.0,156.10 L339.0,155.52 L342.0,154.94 L345.0,154.37 L348.0,153.80 L351.0,153.25 L354.0,152.70 L357.0,152.15 L360.0,151.62 L363.0,151.09 L366.0,150.57 L369.0,150.06 L372.0,149.56 L375.0,149.07 L378.0,148.58 L381.0,148.10 L384.0,147.63 L387.0,147.17 L390.0,146.71 L393.0,146.27 L396.0,145.84 L399.0,145.41 L402.0,145.00 L405.0,144.59 L408.0,144.20 L411.0,143.82 L414.0,143.46 L417.0,143.10 L420.0,142.76 L423.0,142.44 L426.0,142.13 L429.0,141.83 L432.0,141.55 L435.0,141.29 L438.0,141.04 L441.0,140.80 L444.0,140.58 L447.0,140.38 L450.0,140.19 L453.0,140.01 L456.0,139.84 L459.0,139.68 L462.0,139.54 L465.0,139.41 L468.0,139.30 L471.0,139.22 L474.0,139.16 L477.0,139.14 L480.0,139.16 L483.0,139.21 L486.0,139.30 L489.0,139.43 L492.0,139.60 L495.0,139.81 L498.0,140.05 L501.0,140.33 L504.0,140.64 L507.0,140.98 L510.0,141.34 L513.0,141.73 L516.0,142.15 L519.0,142.59 L522.0,143.05 L525.0,143.53 L528.0,144.02 L531.0,144.53 L534.0,145.05 L537.0,145.58 L540.0,146.11 L543.0,146.64 L546.0,147.17 L549.0,147.69 L552.0,148.21 L555.0,148.71 L558.0,149.22 L561.0,149.72 L564.0,150.23 L567.0,150.75 L570.0,151.28 L573.0,151.84 L576.0,152.41 L579.0,153.02 L582.0,153.65 L585.0,154.32 L588.0,155.01 L591.0,155.74 L594.0,156.49 L597.0,157.27 L600.0,158.06 L603.0,158.87 L606.0,159.68 L609.0,160.50 L612.0,161.30 L615.0,162.07 L618.0,162.82 L621.0,163.52 L624.0,164.18 L627.0,164.78 L630.0,165.34 L633.0,165.85 L636.0,166.33 L639.0,166.77 L642.0,167.21 L645.0,167.65 L648.0,168.10 L651.0,168.57 L654.0,169.07 L657.0,169.59 L660.0,170.12 L663.0,170.67 L666.0,171.21 L669.0,171.73 L672.0,172.22 L675.0,172.67 L678.0,173.06" fill="none" stroke="#4234ae" stroke-opacity="0.9" stroke-width="2.5"/>
<path d="M75.0,148.11 L78.0,148.47 L81.0,148.79 L84.0,149.06 L87.0,149.29 L90.0,149.48 L93.0,149.64 L96.0,149.78 L99.0,149.89 L102.0,149.99 L105.0,150.08 L108.0,150.16 L111.0,150.23 L114.0,150.29 L117.0,150.34 L120.0,150.38 L123.0,150.40 L126.0,150.40 L129.0,150.37 L132.0,150.32 L135.0,150.25 L138.0,150.14 L141.0,150.01 L144.0,149.85 L147.0,149.66 L150.0,149.45 L153.0,149.21 L156.0,148.95 L159.0,148.68 L162.0,148.38 L165.0,148.07 L168.0,147.75 L171.0,147.42 L174.0,147.08 L177.0,146.75 L180.0,146.41 L183.0,146.08 L186.0,145.76 L189.0,145.45 L192.0,145.17 L195.0,144.90 L198.0,144.66 L201.0,144.45 L204.0,144.28 L207.0,144.13 L210.0,144.01 L213.0,143.92 L216.0,143.85 L219.0,143.79 L222.0,143.75 L225.0,143.72 L228.0,143.68 L231.0,143.64 L234.0,143.58 L237.0,143.51 L240.0,143.41 L243.0,143.28 L246.0,143.13 L249.0,142.94 L252.0,142.73 L255.0,142.48 L258.0,142.21 L261.0,141.91 L264.0,141.59 L267.0,141.24 L270.0,140.88 L273.0,140.50 L276.0,140.10 L279.0,139.69 L282.0,139.26 L285.0,138.82 L288.0,138.37 L291.0,137.91 L294.0,137.44 L297.0,136.96 L300.0,136.48 L303.0,135.99 L306.0,135.50 L309.0,135.00 L312.0,134.49 L315.0,133.98 L318.0,133.45 L321.0,132.92 L324.0,132.38 L327.0,131.82 L330.0,131.26 L333.0,130.69 L336.0,130.10 L339.0,129.51 L342.0,128.91 L345.0,128.32 L348.0,127.72" fill="none" stroke="rgba(255,255,255,0.45)" stroke-width="0.9" stroke-dasharray="1.5,1.5"/>
<path d="M345.0,126.50 L348.0,125.79 L351.0,125.08 L354.0,124.36 L357.0,123.65 L360.0,122.95 L363.0,122.26 L366.0,121.58 L369.0,120.92 L372.0,120.28 L375.0,119.66 L378.0,119.06 L381.0,118.46 L384.0,117.88 L387.0,117.30 L390.0,116.73 L393.0,116.15 L396.0,115.58 L399.0,115.01 L402.0,114.45 L405.0,113.90 L408.0,113.36 L411.0,112.84 L414.0,112.34 L417.0,111.86 L420.0,111.40 L423.0,110.97 L426.0,110.58 L429.0,110.21 L432.0,109.88 L435.0,109.57 L438.0,109.31 L441.0,109.07 L444.0,108.87 L447.0,108.70 L450.0,108.55 L453.0,108.42 L456.0,108.31 L459.0,108.22 L462.0,108.14 L465.0,108.07 L468.0,108.03 L471.0,108.01 L474.0,108.03 L477.0,108.09 L480.0,108.18 L483.0,108.32 L486.0,108.49 L489.0,108.71 L492.0,108.95 L495.0,109.23 L498.0,109.53 L501.0,109.85 L504.0,110.18 L507.0,110.54 L510.0,110.91 L513.0,111.30 L516.0,111.70 L519.0,112.12 L522.0,112.55 L525.0,113.01 L528.0,113.48 L531.0,113.97 L534.0,114.47 L537.0,115.00 L540.0,115.53 L543.0,116.08 L546.0,116.63 L549.0,117.19 L552.0,117.75 L555.0,118.32 L558.0,118.90 L561.0,119.49 L564.0,120.12 L567.0,120.77 L570.0,121.47 L573.0,122.21 L576.0,123.00 L579.0,123.85 L582.0,124.74 L585.0,125.69 L588.0,126.67 L591.0,127.68 L594.0,128.71 L597.0,129.73 L600.0,130.74" fill="none" stroke="#b02a35" stroke-opacity="0.75" stroke-width="1" stroke-dasharray="1.5,1.5"/>
<path d="M345.0,126.50 L348.0,125.79 L351.0,125.08 L354.0,124.36 L357.0,123.65 L360.0,122.95 L363.0,122.26 L366.0,121.58 L369.0,120.92 L372.0,120.28 L375.0,119.66 L378.0,119.06 L381.0,118.46 L384.0,117.88 L387.0,117.30 L390.0,116.73 L393.0,116.15 L396.0,115.58 L399.0,115.01 L402.0,114.45 L405.0,113.90 L408.0,113.36 L411.0,112.84 L414.0,112.34 L417.0,111.86 L420.0,111.40 L423.0,110.97 L426.0,110.58 L429.0,110.21 L432.0,109.88 L435.0,109.57 L438.0,109.31 L441.0,109.07 L444.0,108.87 L447.0,108.70 L450.0,108.55 L453.0,108.42 L456.0,108.31 L459.0,108.22 L462.0,108.14 L465.0,108.07 L468.0,108.03 L471.0,108.01 L474.0,108.03 L477.0,108.09 L480.0,108.18 L483.0,108.32 L486.0,108.49 L489.0,108.71 L492.0,108.95 L495.0,109.23 L498.0,109.53 L501.0,109.85 L504.0,110.18 L507.0,110.54 L510.0,110.91 L513.0,111.30 L516.0,111.70 L519.0,112.12 L522.0,112.55 L525.0,113.01 L528.0,113.48 L531.0,113.97 L534.0,114.47 L537.0,115.00 L540.0,115.53 L543.0,116.08 L546.0,116.63 L549.0,117.19 L552.0,117.75 L555.0,118.32 L558.0,118.90 L561.0,119.49 L564.0,120.12 L567.0,120.77 L570.0,121.47 L573.0,122.21 L576.0,123.00 L579.0,123.85 L582.0,124.74 L585.0,125.69 L588.0,126.67 L591.0,127.68 L594.0,128.71 L597.0,129.73 L600.0,130.74" fill="none" stroke="rgba(255,255,255,0.35)" stroke-width="1" stroke-dasharray="0,1.5,1.5,0"/>
<path d="M75.0,174.06 L78.0,174.40 L81.0,174.68 L84.0,174.91 L87.0,175.10 L90.0,175.25 L93.0,175.38 L96.0,175.49 L99.0,175.60 L102.0,175.70 L105.0,175.82 L108.0,175.94 L111.0,176.06 L114.0,176.19 L117.0,176.33 L120.0,176.46 L123.0,176.58 L126.0,176.70 L129.0,176.81 L132.0,176.90 L135.0,176.97 L138.0,177.02 L141.0,177.05 L144.0,177.06 L147.0,177.05 L150.0,177.01 L153.0,176.96 L156.0,176.88 L159.0,176.79 L162.0,176.67 L165.0,176.54 L168.0,176.38 L171.0,176.21 L174.0,176.03 L177.0,175.83 L180.0,175.62 L183.0,175.40 L186.0,175.17 L189.0,174.94 L192.0,174.71 L195.0,174.47 L198.0,174.25 L201.0,174.02 L204.0,173.80 L207.0,173.59 L210.0,173.38 L213.0,173.18 L216.0,172.99 L219.0,172.80 L222.0,172.62 L225.0,172.43 L228.0,172.25 L231.0,172.06 L234.0,171.87 L237.0,171.68 L240.0,171.47 L243.0,171.26 L246.0,171.04 L249.0,170.81 L252.0,170.56 L255.0,170.30 L258.0,170.02 L261.0,169.73 L264.0,169.41 L267.0,169.08 L270.0,168.72 L273.0,168.34 L276.0,167.94 L279.0,167.53 L282.0,167.09 L285.0,166.63 L288.0,166.15 L291.0,165.66 L294.0,165.15 L297.0,164.62 L300.0,164.09 L303.0,163.54 L306.0,162.98 L309.0,162.41 L312.0,161.83 L315.0,161.25 L318.0,160.66" fill="none" stroke="rgba(255,255,255,0.45)" stroke-width="0.9" stroke-dasharray="1.5,1.5"/>
<path d="M420.0,141.76 L423.0,141.44 L426.0,141.13 L429.0,140.83 L432.0,140.55 L435.0,140.29 L438.0,140.04 L441.0,139.80 L444.0,139.58 L447.0,139.38 L450.0,139.19 L453.0,139.01 L456.0,138.84 L459.0,138.68 L462.0,138.54 L465.0,138.41 L468.0,138.30 L471.0,138.22 L474.0,138.16 L477.0,138.14 L480.0,138.16 L483.0,138.21 L486.0,138.30 L489.0,138.43 L492.0,138.60 L495.0,138.81 L498.0,139.05 L501.0,139.33 L504.0,139.64 L507.0,139.98 L510.0,140.34 L513.0,140.73 L516.0,141.15 L519.0,141.59 L522.0,142.05 L525.0,142.53 L528.0,143.02 L531.0,143.53 L534.0,144.05 L537.0,144.58 L540.0,145.11 L543.0,145.64 L546.0,146.17 L549.0,146.69 L552.0,147.21 L555.0,147.71 L558.0,148.22 L561.0,148.72 L564.0,149.23 L567.0,149.75 L570.0,150.28" fill="none" stroke="rgba(255,255,255,0.45)" stroke-width="0.9" stroke-dasharray="1.5,1.5"/>
<text transform="translate(71.00,47.80) scale(1,0.97)" class="ax" text-anchor="end">40°C</text>
<text transform="translate(682.00,47.80) scale(1,0.97)" class="ax" text-anchor="start">40°C</text>
<text transform="translate(71.00,75.30) scale(1,0.97)" class="ax" text-anchor="end">35°C</text>
<text transform="translate(682.00,75.30) scale(1,0.97)" class="ax" text-anchor="start">35°C</text>
<text transform="translate(71.00,102.80) scale(1,0.97)" class="ax" text-anchor="end">30°C</text>
<text transform="translate(682.00,102.80) scale(1,0.97)" class="ax" text-anchor="start">30°C</text>
<text transform="translate(71.00,130.30) scale(1,0.97)" class="ax" text-anchor="end">25°C</text>
<text transform="translate(682.00,130.30) scale(1,0.97)" class="ax" text-anchor="start">25°C</text>
<text transform="translate(71.00,157.80) scale(1,0.97)" class="ax" text-anchor="end">20°C</text>
<text transform="translate(682.00,157.80) scale(1,0.97)" class="ax" text-anchor="start">20°C</text>
<text transform="translate(71.00,185.30) scale(1,0.97)" class="ax" text-anchor="end">15°C</text>
<text transform="translate(682.00,185.30) scale(1,0.97)" class="ax" text-anchor="start">15°C</text>
<text transform="translate(71.00,212.80) scale(1,0.97)" class="ax" text-anchor="end">10°C</text>
<text transform="translate(682.00,212.80) scale(1,0.97)" class="ax" text-anchor="start">10°C</text>
<text transform="translate(71.00,240.30) scale(1,0.97)" class="ax" text-anchor="end">5°C</text>
<text transform="translate(682.00,240.30) scale(1,0.97)" class="ax" text-anchor="start">5°C</text>
<text transform="translate(71.00,266.80) scale(1,0.97)" class="ax" text-anchor="end">0°C</text>
<text transform="translate(682.00,266.80) scale(1,0.97)" class="ax" text-anchor="start">0°C</text>
<text transform="translate(71.00,295.30) scale(1,0.97)" class="ax" text-anchor="end">-5°C</text>
<text transform="translate(682.00,295.30) scale(1,0.97)" class="ax" text-anchor="start">-5°C</text>
<text transform="translate(71.00,321.80) scale(1,0.97)" class="ax" text-anchor="end">-10°C</text>
<text transform="translate(682.00,321.80) scale(1,0.97)" class="ax" text-anchor="start">-10°C</text>
<text transform="translate(71.00,350.30) scale(1,0.97)" class="ax" text-anchor="end">-15°C</text>
<text transform="translate(682.00,350.30) scale(1,0.97)" class="ax" text-anchor="start">-15°C</text>
<text transform="translate(71.00,376.80) scale(1,0.97)" class="ax" text-anchor="end">-20°C</text>
<text transform="translate(682.00,376.80) scale(1,0.97)" class="ax" text-anchor="start">-20°C</text>
<text transform="translate(100.54,400.60) scale(1,1.05)" class="mo" text-anchor="middle">Jan</text>
<text transform="translate(149.96,400.60) scale(1,1.05)" class="mo" text-anchor="middle">Feb</text>
<text transform="translate(199.39,400.60) scale(1,1.05)" class="mo" text-anchor="middle">Mar</text>
<text transform="translate(249.64,400.60) scale(1,1.05)" class="mo" text-anchor="middle">Apr</text>
<text transform="translate(299.89,400.60) scale(1,1.05)" class="mo" text-anchor="middle">May</text>
<text transform="translate(350.14,400.60) scale(1,1.05)" class="mo" text-anchor="middle">Jun</text>
<text transform="translate(400.39,400.60) scale(1,1.05)" class="mo" text-anchor="middle">Jul</text>
<text transform="translate(451.46,400.60) scale(1,1.05)" class="mo" text-anchor="middle">Aug</text>
<text transform="translate(501.71,400.60) scale(1,1.05)" class="mo" text-anchor="middle">Sep</text>
<text transform="translate(551.96,400.60) scale(1,1.05)" class="mo" text-anchor="middle">Oct</text>
<text transform="translate(602.21,400.60) scale(1,1.05)" class="mo" text-anchor="middle">Nov</text>
<text transform="translate(652.46,400.60) scale(1,1.05)" class="mo" text-anchor="middle">Dec</text>
<text transform="translate(158.95,23.80) scale(1,1.05)" class="mo" text-anchor="middle">cool</text>
<text transform="translate(466.95,23.80) scale(1,1.05)" class="mo" text-anchor="middle">warm</text>
<circle cx="133.30" cy="149.29" r="2.05" fill="#000"/>
<circle cx="133.30" cy="175.93" r="2.05" fill="#000"/>
<circle cx="243.00" cy="142.28" r="2.05" fill="#000"/>
<circle cx="243.00" cy="170.26" r="2.05" fill="#000"/>
<circle cx="384.00" cy="120.65" r="2.05" fill="#000"/>
<circle cx="384.00" cy="147.63" r="2.05" fill="#000"/>
<circle cx="458.00" cy="113.36" r="2.05" fill="#000"/>
<circle cx="458.00" cy="139.73" r="2.05" fill="#000"/>
<circle cx="549.40" cy="120.70" r="2.05" fill="#000"/>
<circle cx="549.40" cy="147.76" r="2.05" fill="#000"/>
<circle cx="652.00" cy="142.42" r="2.05" fill="#000"/>
<circle cx="652.00" cy="168.73" r="2.05" fill="#000"/>
<text transform="translate(133.30,141.59) scale(1,1.05)" class="lb halo" text-anchor="middle">21°C</text>
<text transform="translate(133.30,123.89) scale(1,1.05)" class="lb halo" text-anchor="middle">Feb 5</text>
<text transform="translate(133.30,193.63) scale(1,1.05)" class="lb halo" text-anchor="middle">16°C</text>
<text transform="translate(243.00,134.78) scale(1,1.05)" class="lb halo" text-anchor="middle">22°C</text>
<text transform="translate(243.00,116.68) scale(1,1.05)" class="lb halo" text-anchor="middle">Apr 12</text>
<text transform="translate(243.00,187.76) scale(1,1.05)" class="lb halo" text-anchor="middle">17°C</text>
<text transform="translate(384.00,113.45) scale(1,1.05)" class="lb halo" text-anchor="middle">26°C</text>
<text transform="translate(384.00,95.05) scale(1,1.05)" class="lb halo" text-anchor="middle">Jul 6</text>
<text transform="translate(384.00,164.53) scale(1,1.05)" class="lb halo" text-anchor="middle">21°C</text>
<text transform="translate(458.00,105.96) scale(1,1.05)" class="lb halo" text-anchor="middle">27°C</text>
<text transform="translate(458.00,88.06) scale(1,1.05)" class="lb halo" text-anchor="middle">Aug 20</text>
<text transform="translate(458.00,156.43) scale(1,1.05)" class="lb halo" text-anchor="middle">22°C</text>
<text transform="translate(549.40,113.60) scale(1,1.05)" class="lb halo" text-anchor="middle">26°C</text>
<text transform="translate(549.40,94.90) scale(1,1.05)" class="lb halo" text-anchor="middle">Oct 15</text>
<text transform="translate(549.40,164.86) scale(1,1.05)" class="lb halo" text-anchor="middle">21°C</text>
<text transform="translate(652.00,133.92) scale(1,1.05)" class="lb halo" text-anchor="middle">22°C</text>
<text transform="translate(652.00,116.02) scale(1,1.05)" class="lb halo" text-anchor="middle">Dec 16</text>
<text transform="translate(652.00,185.63) scale(1,1.05)" class="lb halo" text-anchor="middle">17°C</text>
<text transform="translate(133.30,141.59) scale(1,1.05)" class="lb" text-anchor="middle">21°C</text>
<text transform="translate(133.30,123.89) scale(1,1.05)" class="lb" text-anchor="middle">Feb 5</text>
<text transform="translate(133.30,193.63) scale(1,1.05)" class="lb" text-anchor="middle">16°C</text>
<text transform="translate(243.00,134.78) scale(1,1.05)" class="lb" text-anchor="middle">22°C</text>
<text transform="translate(243.00,116.68) scale(1,1.05)" class="lb" text-anchor="middle">Apr 12</text>
<text transform="translate(243.00,187.76) scale(1,1.05)" class="lb" text-anchor="middle">17°C</text>
<text transform="translate(384.00,113.45) scale(1,1.05)" class="lb" text-anchor="middle">26°C</text>
<text transform="translate(384.00,95.05) scale(1,1.05)" class="lb" text-anchor="middle">Jul 6</text>
<text transform="translate(384.00,164.53) scale(1,1.05)" class="lb" text-anchor="middle">21°C</text>
<text transform="translate(458.00,105.96) scale(1,1.05)" class="lb" text-anchor="middle">27°C</text>
<text transform="translate(458.00,88.06) scale(1,1.05)" class="lb" text-anchor="middle">Aug 20</text>
<text transform="translate(458.00,156.43) scale(1,1.05)" class="lb" text-anchor="middle">22°C</text>
<text transform="translate(549.40,113.60) scale(1,1.05)" class="lb" text-anchor="middle">26°C</text>
<text transform="translate(549.40,94.90) scale(1,1.05)" class="lb" text-anchor="middle">Oct 15</text>
<text transform="translate(549.40,164.86) scale(1,1.05)" class="lb" text-anchor="middle">21°C</text>
<text transform="translate(652.00,133.92) scale(1,1.05)" class="lb" text-anchor="middle">22°C</text>
<text transform="translate(652.00,116.02) scale(1,1.05)" class="lb" text-anchor="middle">Dec 16</text>
<text transform="translate(652.00,185.63) scale(1,1.05)" class="lb" text-anchor="middle">17°C</text>
</svg>
</body></html>
